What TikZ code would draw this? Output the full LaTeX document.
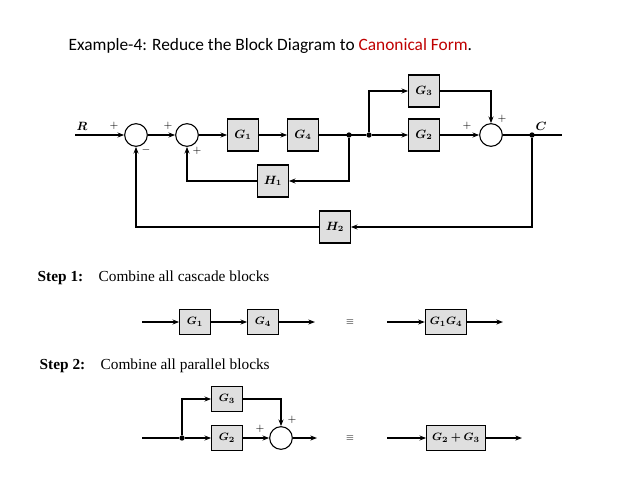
\documentclass[tikz,border=0pt]{standalone}
\usepackage{fontspec}
\usepackage{amsmath,bm}
\setmainfont{Liberation Serif}
\newfontfamily\titlefont{Carlito}
\usetikzlibrary{arrows.meta}
\begin{document}
\begin{tikzpicture}[x=0.75pt,y=-0.75pt,
  blk/.style={draw, thick, fill=gray!25, minimum width=23pt, minimum height=24pt, inner sep=0pt, font=\small},
  sblk/.style={draw, thick, fill=gray!25, minimum width=23pt, minimum height=19pt, inner sep=0pt, font=\footnotesize},
  sum/.style={draw, thick, circle, minimum size=17pt, inner sep=0pt},
  dot/.style={circle, fill, inner sep=0pt, minimum size=4pt},
  sig/.style={thick, -{Stealth[length=5pt]}},
  ln/.style={thick},
  pm/.style={font=\footnotesize, inner sep=1pt}]
\useasboundingbox (0,0) rectangle (638,479);
\node[font=\titlefont\fontsize{13}{15}\selectfont, anchor=west] (title) at (64,46)
  {Example-4: Reduce the Block Diagram to \textcolor{red!75!black}{Canonical Form}.};

% main diagram
\coordinate (in) at (75,135);
\node[sum] (s1) at (136,135) {};
\node[sum] (s2) at (187,135) {};
\node[blk] (g1) at (243,135) {$\bm{G_1}$};
\node[blk] (g4) at (303,135) {$\bm{G_4}$};
\node[dot] (j1) at (349,135) {};
\node[dot] (j2) at (369,135) {};
\node[blk] (g3) at (424,91) {$\bm{G_3}$};
\node[blk] (g2) at (424,135) {$\bm{G_2}$};
\node[sum] (s3) at (491,135) {};
\node[dot] (j3) at (532,135) {};
\coordinate (out) at (562,135);
\node[blk] (h1) at (273,181) {$\bm{H_1}$};
\node[blk] (h2) at (335,227) {$\bm{H_2}$};
\node[font=\small] (rl) at (82,126) {$\bm{R}$};
\node[font=\small] (cl) at (541,126) {$\bm{C}$};
\node[pm] (p1) at (114,126) {$+$};
\node[pm] (m1) at (146,150) {$-$};
\node[pm] (p2) at (168,126) {$+$};
\node[pm] (p3) at (197,151) {$+$};
\node[pm] (p4) at (467,126) {$+$};
\node[pm] (p5) at (502,119) {$+$};

\draw[sig] (in) -- (s1);
\draw[sig] (s1) -- (s2);
\draw[sig] (s2) -- (g1);
\draw[sig] (g1) -- (g4);
\draw[ln] (g4) -- (j2);
\draw[sig] (j2) -- (g2);
\draw[sig] (j2) |- (g3);
\draw[sig] (g3) -| (s3);
\draw[sig] (g2) -- (s3);
\draw[ln] (s3) -- (out);
\draw[sig] (j1) |- (h1);
\draw[sig] (h1) -| (s2);
\draw[sig] (j3) |- (h2);
\draw[sig] (h2) -| (s1);

% step 1
\node[anchor=west, font=\fontsize{11.5}{13}\selectfont] (st1) at (33,278) {\textbf{Step 1:}\quad Combine all cascade blocks};
\coordinate (a0) at (142,322);
\node[sblk] (a1) at (195,322) {$\bm{G_1}$};
\node[sblk] (a2) at (263,322) {$\bm{G_4}$};
\coordinate (a3) at (315,322);
\node[font=\scriptsize] (eq1) at (350,322) {$\equiv$};
\coordinate (b0) at (387,322);
\node[sblk, minimum width=31pt] (b1) at (446,322) {$\bm{G_1G_4}$};
\coordinate (b2) at (503,322);
\draw[sig] (a0) -- (a1);
\draw[sig] (a1) -- (a2);
\draw[sig] (a2) -- (a3);
\draw[sig] (b0) -- (b1);
\draw[sig] (b1) -- (b2);

% step 2
\node[anchor=west, font=\fontsize{11.5}{13}\selectfont] (st2) at (35,366) {\textbf{Step 2:}\quad Combine all parallel blocks};
\coordinate (c0) at (142,438);
\node[dot] (cj) at (182,438) {};
\node[sblk] (c3) at (227,399) {$\bm{G_3}$};
\node[sblk] (c2) at (227,438) {$\bm{G_2}$};
\node[sum] (cs) at (281,438) {};
\coordinate (c4) at (317,438);
\node[pm] (q1) at (260,429) {$+$};
\node[pm] (q2) at (292,420) {$+$};
\node[font=\scriptsize] (eq2) at (350,438) {$\equiv$};
\coordinate (d0) at (387,438);
\node[sblk, minimum width=44pt] (d1) at (456,438) {$\bm{G_2+G_3}$};
\coordinate (d2) at (522,438);
\draw[ln] (c0) -- (cj);
\draw[sig] (cj) -- (c2);
\draw[sig] (cj) |- (c3);
\draw[sig] (c3) -| (cs);
\draw[sig] (c2) -- (cs);
\draw[sig] (cs) -- (c4);
\draw[sig] (d0) -- (d1);
\draw[sig] (d1) -- (d2);
\end{tikzpicture}
\end{document}
